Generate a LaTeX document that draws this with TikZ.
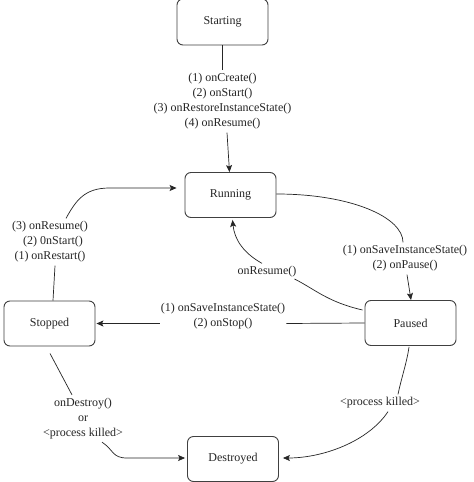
\documentclass[tikz,border=0pt]{standalone}
\usepackage{fontspec}
\setmainfont{Liberation Serif}
\usetikzlibrary{arrows.meta,calc}
\begin{document}
\begin{tikzpicture}[x=1bp,y=-1bp,
  every node/.style={font=\fontsize{12bp}{15bp}\selectfont, text=black!85},
  state/.style={draw=black!75, line width=0.9bp, rounded corners=6bp,
    minimum width=91bp, minimum height=45bp, inner sep=0pt},
  lbl/.style={align=center, inner sep=3bp},
  conn/.style={draw=black!85, line width=0.7bp},
  arr/.style={conn, -{Stealth[length=7bp,width=6bp,inset=1.5bp]}}
]
\useasboundingbox[fill=white] (0,0) rectangle (474,482);

% states
\node[state, minimum height=46bp] (start) at (222.5,22) {Starting};
\node[state] (run) at (230.5,195) {Running};
\node[state] (stop) at (49.5,323.5) {Stopped};
\node[state] (pause) at (410.5,323) {Paused};
\node[state] (dest) at (233,459) {Destroyed};

% labels
\node[lbl] (l1) at (222.5,101.5) {(1) onCreate()\\(2) onStart()\\(3) onRestoreInstanceState()\\(4) onResume()};
\node[lbl] (l2) at (50,242) {(3) onResume()\\\hspace*{6bp}(2) 0nStart()\\(1) onRestart()};
\node[lbl] (l3) at (405,258.5) {(1) onSaveInstanceState()\\(2) onPause()};
\node[lbl] (l4) at (267,272) {onResume()};
\node[lbl] (l5) at (223,316) {(1) onSaveInstanceState()\\(2) onStop()};
\node[lbl] (l6) at (83,418.5) {onDestroy()\\or\\<process killed>};
\node[lbl] (l7) at (380,403) {<process killed>};

% Starting -> Running
\draw[conn] (start.south) -- (l1.north);
\draw[arr] ($(l1.south)+(4.5,0)$) -- ($(run.north)+(-1,0)$);

% Stopped -> Running
\draw[conn] ($(stop.north)+(3.5,0)$) -- ($(l2.south)+(5,0)$);
\draw[arr] ($(l2.north)+(16,0)$) .. controls +(10,-18) and +(-25,0) .. ($(run.west)+(-75,-7)$) -- ($(run.west)+(-8,-7)$);

% Running -> Paused
\draw[conn] ($(run.east)+(0,-1)$) .. controls +(75,0) and +(0,-25) .. ($(l3.north)+(-2,0)$);
\draw[arr] ($(l3.south)+(2,0)$) -- ($(pause.north)+(0.5,0)$);

% Paused -> Running (onResume)
\draw[conn] ($(pause.west)+(-2,-13)$) .. controls +(-35,-8) and +(20,10) .. ($(l4.east)+(-5,7)$);
\draw[arr] ($(l4.north)+(-5,0)$) .. controls +(-18,-10) and +(2,20) .. ($(run.south)+(2,2)$);

% Paused -> Stopped
\draw[conn] (pause.west) -- ($(l5.east)+(-2,7.5)$);
\draw[arr] ($(l5.west)+(2,7.5)$) -- ($(stop.east)+(1,0)$);

% Stopped -> Destroyed
\draw[conn] ($(stop.south)+(0.5,7)$) -- ($(l6.north)+(-11,0)$);
\draw[arr] ($(l6.south)+(19,0)$) .. controls +(12,8) and +(-15,0) .. ($(dest.west)+(-60,-1)$) -- ($(dest.west)+(-2,-1)$);

% Paused -> Destroyed
\draw[conn] ($(pause.south)+(-1.5,1)$) .. controls +(-2,15) and +(3,-15) .. ($(l7.north)+(18,0)$);
\draw[arr] ($(l7.south)+(8,0)$) .. controls +(-20,30) and +(40,0) .. ($(dest.east)+(4,-1)$);
\end{tikzpicture}
\end{document}
